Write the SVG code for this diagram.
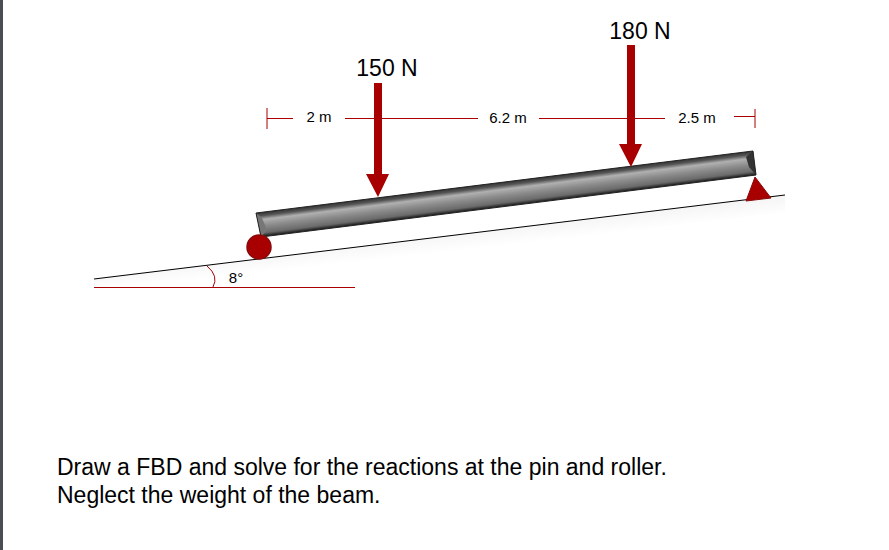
<svg xmlns="http://www.w3.org/2000/svg" width="889" height="550" viewBox="0 0 889 550">
<style>
.t{font-family:"Liberation Sans",Arial,sans-serif;fill:#000}
.f{font-size:23px;text-anchor:middle}
.d{font-size:15px;text-anchor:middle}
.q{font-size:23px}
.dim{stroke:#a80000;stroke-width:1;fill:none}
.arrow{fill:#a80000}
</style>
<defs>
<linearGradient id="beam" gradientUnits="userSpaceOnUse" x1="256" y1="213" x2="259" y2="237">
<stop offset="0" stop-color="#333"/><stop offset="0.14" stop-color="#555"/><stop offset="0.3" stop-color="#b0b0b0"/><stop offset="0.55" stop-color="#8c8c8c"/><stop offset="0.85" stop-color="#6a6a6a"/><stop offset="1" stop-color="#1a1a1a"/>
</linearGradient>
<linearGradient id="shade" gradientUnits="userSpaceOnUse" x1="420" y1="237" x2="422" y2="255">
<stop offset="0" stop-color="#000" stop-opacity="0.04"/><stop offset="1" stop-color="#000" stop-opacity="0"/>
</linearGradient>
</defs>
<rect x="0" y="0" width="889" height="550" fill="#fff"/>
<rect x="0" y="0" width="3" height="550" fill="#4a4d52"/>
<polygon points="94,279 785,195 785,212 94,296" fill="url(#shade)"/>
<g id="connectors">
<line x1="94" y1="279" x2="785" y2="195" stroke="#000" stroke-width="1"/>
<line class="dim" x1="94" y1="287.500" x2="355" y2="287.500"/>
<path class="dim" d="M207 266 Q219 276 213 287"/>
<path class="dim" d="M267 108V129M267 118.500H293M345 118.500H478M539 118.500H665M734 116.500H755M755 109V128"/>
</g>
<g id="beam-node">
<polygon points="256,213 753,151 756,175 261,237" fill="url(#beam)"/>
<polygon points="256,213 261,237 267,230 262,218" fill="#777"/>
<polygon points="753,151 756,175 749,167 746,157" fill="#333"/>
<polygon points="256,213 753,151 756,175 261,237" fill="none" stroke="#222" stroke-width="1"/>
</g>
<g id="roller">
<circle cx="259" cy="247" r="12" fill="#a80000" stroke="#8a0a0a" stroke-width="1.500"/>
</g>
<g id="pin">
<polygon points="755,177 771,198 746,201" fill="#a80000" stroke="#8a0a0a" stroke-width="1"/>
</g>
<g id="load-150">
<polygon class="arrow" points="374,83 382,83 382,174 389,174 378,197 366,174 374,174"/>
<text class="t f" x="387" y="76">150 N</text>
</g>
<g id="load-180">
<polygon class="arrow" points="627,45 635,45 635,144 642,144 631,167 619,144 627,144"/>
<text class="t f" x="640" y="39">180 N</text>
</g>
<g id="labels">
<text class="t d" x="319" y="122">2 m</text>
<text class="t d" x="508" y="123">6.2 m</text>
<text class="t d" x="697" y="123">2.5 m</text>
<text class="t d" x="236" y="283">8°</text>
<text class="t q" x="57" y="475">Draw a FBD and solve for the reactions at the pin and roller.</text>
<text class="t q" x="57" y="503">Neglect the weight of the beam.</text>
</g>
</svg>
